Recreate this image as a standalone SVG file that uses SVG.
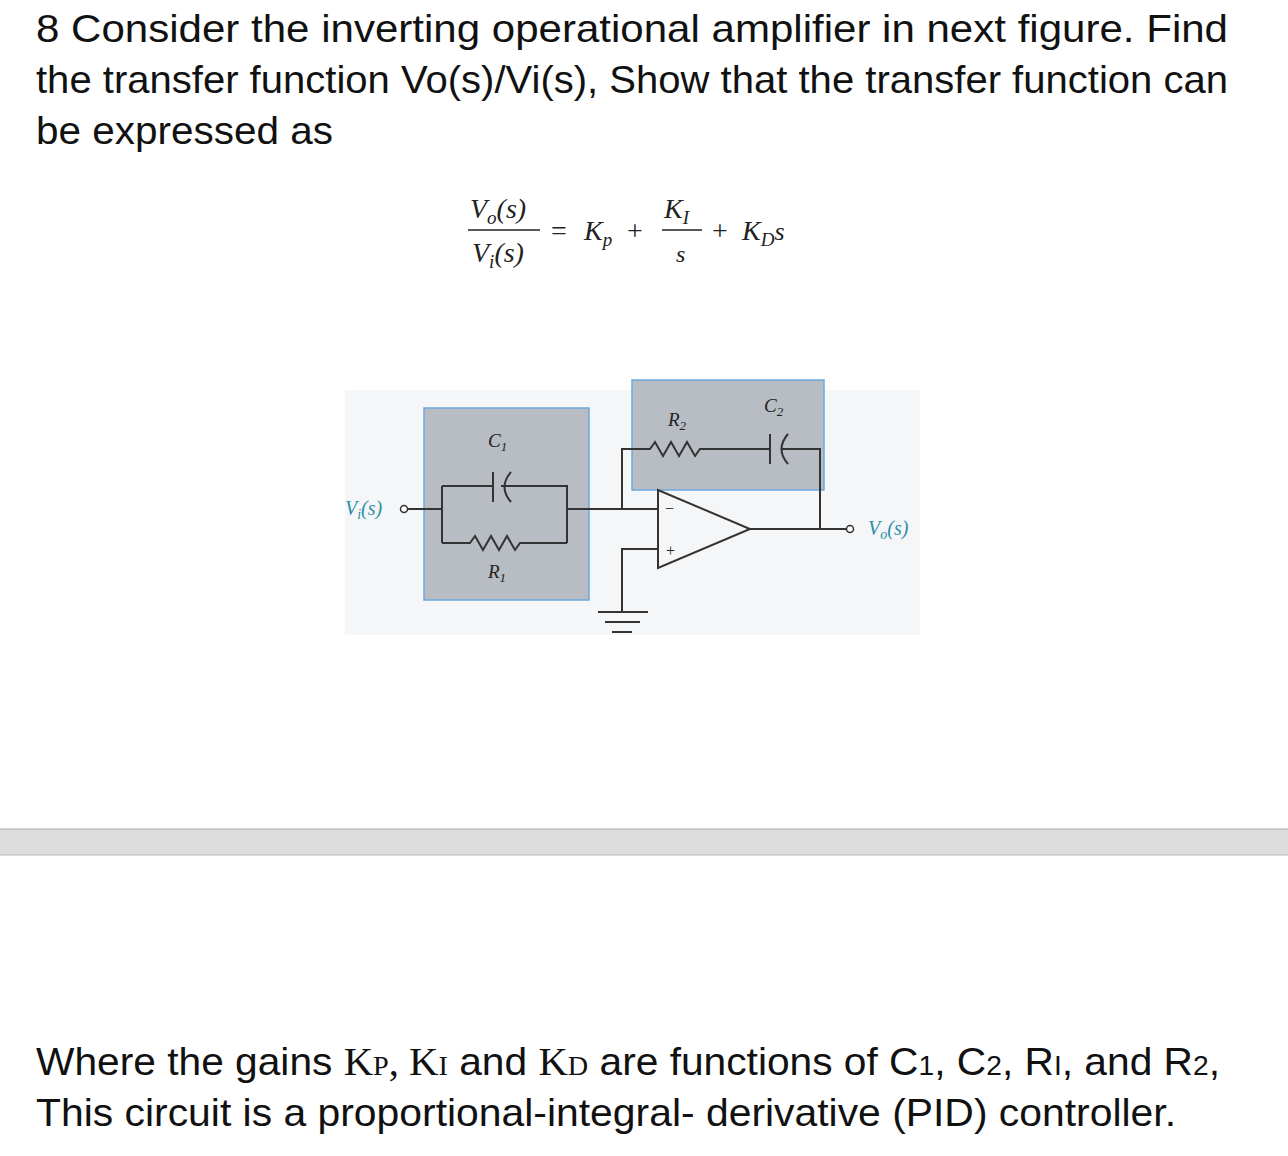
<svg xmlns="http://www.w3.org/2000/svg" width="1288" height="1156" viewBox="0 0 1288 1156">
<style>
.t{font-family:"Liberation Sans",Arial,sans-serif;font-size:39px;fill:#111}
.m{font-family:"Liberation Serif","DejaVu Serif",serif;font-style:italic;fill:#222}
.r{font-family:"Liberation Serif","DejaVu Serif",serif;fill:#222}
.lab{font-family:"Liberation Serif",serif;font-style:italic;font-size:20px;fill:#2a8fa8}
.w{fill:none;stroke:#333;stroke-width:2}
.box{fill:#b8bcc3;stroke:#6aa8e0;stroke-width:1.5}
</style>
<rect width="1288" height="1156" fill="#fff"/>
<text class="t" x="36" y="42" textLength="1192" lengthAdjust="spacingAndGlyphs">8 Consider the inverting operational amplifier in next figure. Find</text>
<text class="t" x="36" y="93" textLength="1192" lengthAdjust="spacingAndGlyphs">the transfer function Vo(s)/Vi(s), Show that the transfer function can</text>
<text class="t" x="36" y="144" textLength="297" lengthAdjust="spacingAndGlyphs">be expressed as</text>
<g id="equation">
<text class="m" x="470" y="218" font-size="28">V<tspan font-size="19" dy="6">o</tspan><tspan class="r" dy="-6">(s)</tspan></text>
<line x1="468" y1="230" x2="540" y2="230" stroke="#222" stroke-width="1.5"/>
<text class="m" x="472" y="262" font-size="28">V<tspan font-size="19" dy="6">i</tspan><tspan class="r" dy="-6">(s)</tspan></text>
<text class="r" x="551" y="240" font-size="28">=</text>
<text class="m" x="584" y="240" font-size="28">K<tspan font-size="19" dy="6">p</tspan></text>
<text class="r" x="627" y="240" font-size="28">+</text>
<text class="m" x="664" y="218" font-size="28">K<tspan font-size="19" dy="6">I</tspan></text>
<line x1="662" y1="230" x2="702" y2="230" stroke="#222" stroke-width="1.5"/>
<text class="m" x="676" y="262" font-size="24">s</text>
<text class="r" x="712" y="240" font-size="28">+</text>
<text class="m" x="742" y="240" font-size="28">K<tspan font-size="19" dy="6">D</tspan><tspan font-size="26" dy="-6">s</tspan></text>
</g>
<rect x="345" y="390" width="575" height="245" fill="#f5f6f7"/>
<g id="Z1"><rect class="box" x="424" y="408" width="165" height="192"/></g>
<g id="Z2"><rect class="box" x="632" y="380" width="192" height="110"/></g>
<g id="connectors">
<circle cx="404" cy="509" r="3.5" fill="#fff" stroke="#333" stroke-width="1.5"/>
<path class="w" d="M408 509H442M442 486V543M442 486H493M501 486H567V543M442 543H470l5 -7 8 14 8 -14 8 14 8 -14 8 14 5 -7H567M567 509H658"/>
<path class="w" d="M493 472V502"/>
<path class="w" d="M511 472Q498 487 511 502"/>
<path class="w" d="M622 509V449H650l5 -7 8 14 8 -14 8 14 8 -14 8 14 5 -7H770M782 449H820V529"/>
<path class="w" d="M770 434V464"/>
<path class="w" d="M788 434Q775 449 788 464"/>
<path class="w" d="M658 490V568L750 529Z"/>
<path class="w" d="M750 529H846"/>
<circle cx="850" cy="529" r="3.5" fill="#fff" stroke="#333" stroke-width="1.5"/>
<path class="w" d="M658 549H622V612M598 612H648M605 622H640M612 632H632"/>
</g>
<text class="r" x="665" y="514" font-size="16">−</text>
<text class="r" x="666" y="556" font-size="16">+</text>
<text class="m" x="488" y="447" font-size="19">C<tspan font-size="13" dy="4">1</tspan></text>
<text class="m" x="488" y="578" font-size="19">R<tspan font-size="13" dy="4">1</tspan></text>
<text class="m" x="668" y="426" font-size="19">R<tspan font-size="13" dy="4">2</tspan></text>
<text class="m" x="764" y="412" font-size="19">C<tspan font-size="13" dy="4">2</tspan></text>
<text class="lab" x="345" y="515">V<tspan font-size="14" dy="4">i</tspan><tspan dy="-4">(s)</tspan></text>
<text class="lab" x="868" y="535">V<tspan font-size="14" dy="4">o</tspan><tspan dy="-4">(s)</tspan></text>
<rect x="0" y="829" width="1288" height="26" fill="#dcdcdc"/>
<line x1="0" y1="829" x2="1288" y2="829" stroke="#aaa"/>
<line x1="0" y1="855" x2="1288" y2="855" stroke="#bbb"/>
<text class="t" x="36" y="1075" textLength="1184" lengthAdjust="spacingAndGlyphs">Where the gains <tspan font-family="Liberation Serif">K<tspan font-size="27">P</tspan>, K<tspan font-size="27">I</tspan></tspan> and <tspan font-family="Liberation Serif">K<tspan font-size="27">D</tspan></tspan> are functions of C<tspan font-size="27">1</tspan>, C<tspan font-size="27">2</tspan>, R<tspan font-size="27">I</tspan>, and R<tspan font-size="27">2</tspan>,</text>
<text class="t" x="36" y="1126" textLength="1140" lengthAdjust="spacingAndGlyphs">This circuit is a proportional-integral- derivative (PID) controller.</text>
</svg>
